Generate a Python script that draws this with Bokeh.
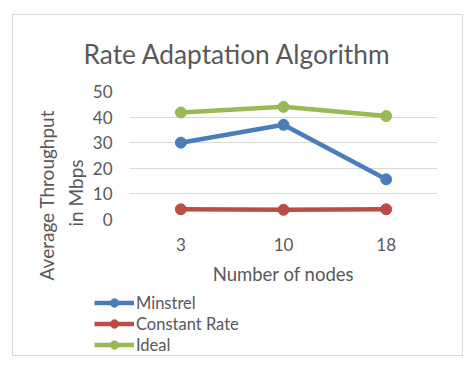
from bokeh.plotting import figure
from bokeh.layouts import column, row
from bokeh.models import FactorRange, Range1d, Legend, LegendItem, FixedTicker, Title
from bokeh.embed import file_html
from bokeh.resources import INLINE

nodes = ["3", "10", "18"]
minstrel = [30, 37, 15.7]
constant_rate = [4, 3.8, 4]
ideal = [41.8, 44, 40.4]
y_ticks = [0, 10, 20, 30, 40, 50]
series_names = ["Minstrel", "Constant Rate", "Ideal"]
series_colors = ["#4A7EBB", "#BE4B48", "#98B954"]
series_values = [minstrel, constant_rate, ideal]

FONT = "Lato"
TXT = "#595959"

p = figure(x_range=FactorRange(*nodes), y_range=Range1d(0, 50), width=451, height=272,
           output_backend="svg", toolbar_location=None,
           min_border_left=116, min_border_right=25, min_border_top=76, min_border_bottom=66)
p.outline_line_color = None
p.border_fill_color = "white"

p.xgrid.grid_line_color = None
p.ygrid.grid_line_color = "#d9d9d9"
p.yaxis.ticker = FixedTicker(ticks=y_ticks)

for ax in (p.xaxis, p.yaxis):
    ax.axis_line_color = None
    ax.major_tick_line_color = None
    ax.minor_tick_line_color = None
    ax.major_label_text_font = FONT
    ax.major_label_text_font_size = "17px"
    ax.major_label_text_color = TXT
    ax.axis_label_text_font = FONT
    ax.axis_label_text_font_size = "18.5px"
    ax.axis_label_text_font_style = "normal"
    ax.axis_label_text_color = TXT
p.yaxis.major_label_standoff = 11
p.xaxis.major_label_standoff = 12
p.xaxis.axis_label = "Number of nodes"
p.xaxis.axis_label_standoff = 9

for vals, col in zip(series_values, series_colors):
    p.line(nodes, vals, line_color=col, line_width=4.5)
    p.scatter(nodes, vals, size=11, fill_color=col, line_color=col)

p.add_layout(Title(text="Rate Adaptation Algorithm", align="left", offset=-46,
                   vertical_align="top", standoff=40,
                   text_font=FONT, text_font_size="26.3px", text_font_style="normal",
                   text_color=TXT), "above")
p.add_layout(Title(text="in Mbps", align="left", offset=-7, standoff=6,
                   text_font=FONT, text_font_size="19px", text_font_style="normal",
                   text_color=TXT), "left")
p.add_layout(Title(text="Average Throughput", align="left", offset=-61, standoff=1,
                   text_font=FONT, text_font_size="19px", text_font_style="normal",
                   text_color=TXT), "left")

# legend strip (its renderers use the same series, kept outside its visible range)
pl = figure(width=451, height=68, x_range=FactorRange(*nodes), y_range=Range1d(100, 101),
            output_backend="svg", toolbar_location=None, min_border=0)
pl.axis.visible = False
pl.grid.grid_line_color = None
pl.outline_line_color = None
items = []
for name, vals, col in zip(series_names, series_values, series_colors):
    r1 = pl.line(nodes, vals, line_color=col, line_width=4.5)
    r2 = pl.scatter(nodes, vals, size=11, fill_color=col, line_color=col)
    items.append(LegendItem(label=name, renderers=[r1, r2]))
leg = Legend(items=items, location=(81, 0))
leg.label_text_font = FONT
leg.label_text_font_size = "16.5px"
leg.label_text_color = TXT
leg.glyph_width = 40
leg.glyph_height = 21
leg.label_height = 21
leg.label_standoff = 2
leg.spacing = 0
leg.padding = 0
leg.margin = 0
leg.border_line_color = None
leg.background_fill_alpha = 0
pl.add_layout(leg, "center")

lay = column(p, row(pl), spacing=0)
lay.styles = {"border": "1px solid #d9d9d9", "margin-left": "12px", "margin-top": "14px",
              "width": "451px"}

open("out.html", "w").write(file_html(lay, INLINE))
